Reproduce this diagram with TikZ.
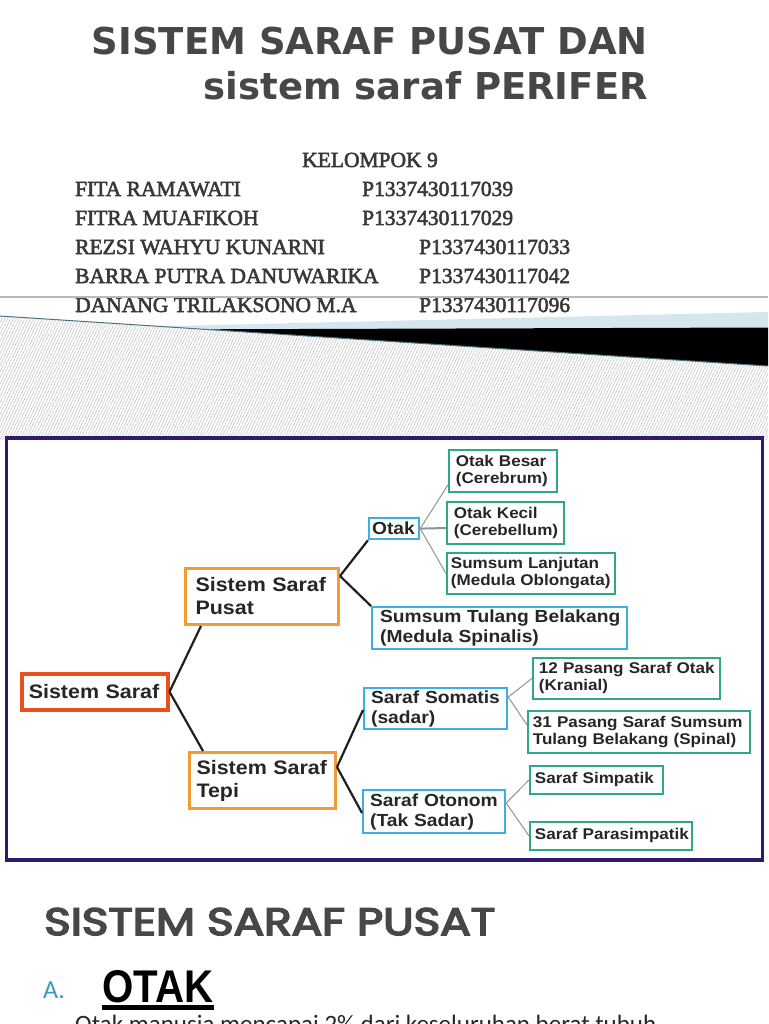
\documentclass[tikz,border=0pt]{standalone}
\usepackage{fontspec}
\usetikzlibrary{calc,patterns.meta}
\setmainfont{Liberation Serif}
\newfontfamily\namefont[FakeBold=2.5]{Liberation Serif}
\newfontfamily\titlef{DejaVu Sans}
\newfontfamily\boxf[FakeStretch=1.1]{Liberation Sans}
\newfontfamily\plainsans{Liberation Sans}
\newfontfamily\comicf[FakeBold=4]{Poppins}
\newfontfamily\bodyf{Carlito}
\definecolor{titlegray}{HTML}{474747}
\definecolor{namegray}{HTML}{383838}
\definecolor{nodetext}{HTML}{262626}
\definecolor{sred}{HTML}{E8501E}
\definecolor{sorange}{HTML}{F29A35}
\definecolor{sblue}{HTML}{3DAFE6}
\definecolor{sgreen}{HTML}{2FA888}
\definecolor{purp}{HTML}{2E1A6E}
\definecolor{lightband}{HTML}{D6E6EF}
\definecolor{edgeline}{HTML}{4D7380}
\definecolor{tealA}{HTML}{3A9DC0}
\definecolor{comicgray}{HTML}{474747}
\tikzset{
  bx/.style={draw, fill=white, anchor=north west, inner ysep=0pt, text=nodetext, align=left},
  redbx/.style={bx, draw=sred, line width=3.5pt, font=\boxf\bfseries\fontsize{19.5}{23}\selectfont},
  orbx/.style={bx, draw=sorange, line width=3pt, font=\boxf\bfseries\fontsize{19.5}{23}\selectfont},
  blbx/.style={bx, draw=sblue, line width=2.2pt, font=\boxf\bfseries\fontsize{17.5}{20}\selectfont},
  grbx/.style={bx, draw=sgreen, line width=1.8pt, font=\boxf\bfseries\fontsize{15.5}{17}\selectfont},
  mainlink/.style={line width=2.2pt, black!88},
  sublink/.style={line width=1pt, gray!85},
  txt/.style={inner sep=0pt, anchor=base west},
  namef/.style={txt, text=namegray, font=\namefont\fontsize{21.5}{22}\selectfont},
}
\begin{document}
\begin{tikzpicture}[x=1pt,y=-1pt]
\clip (0,0) rectangle (768,1024);
\fill[white] (0,0) rectangle (768,1024);

% title
\node[inner sep=0pt, anchor=base east, text=titlegray, font=\titlef\bfseries\fontsize{37}{40}\selectfont] (t1) at (648,55) {SISTEM SARAF PUSAT DAN};
\node[inner sep=0pt, anchor=base east, text=titlegray, font=\titlef\bfseries\fontsize{37}{40}\selectfont] (t2) at (648,100) {sistem saraf PERIFER};

% group
\node[inner sep=0pt, anchor=base, text=namegray, font=\namefont\fontsize{21.5}{22}\selectfont] (kel) at (370,167) {KELOMPOK 9};
\node[namef] (n1) at (75,196) {FITA RAMAWATI};
\node[namef] (n2) at (75,225) {FITRA MUAFIKOH};
\node[namef] (n3) at (75,254) {REZSI WAHYU KUNARNI};
\node[namef] (n4) at (75,283) {BARRA PUTRA DANUWARIKA};
\node[namef] (n5) at (75,312) {DANANG TRILAKSONO M.A};
\node[namef] (i1) at (362,196) {P1337430117039};
\node[namef] (i2) at (362,225) {P1337430117029};
\node[namef] (i3) at (419,254) {P1337430117033};
\node[namef] (i4) at (419,283) {P1337430117042};
\node[namef] (i5) at (419,312) {P1337430117096};

% slide separator line
\draw[line width=1.5pt, gray!55] (0,297) -- (768,297);

% decorative band
\path[pattern={Lines[angle=65,distance=2.6pt,line width=0.5pt]}, pattern color=gray!50]
  (0,316) -- (768,366) -- (768,440) -- (0,440) -- cycle;
\fill[lightband] (158,326.3) -- (768,312) -- (768,327.5) -- (205,329.3) -- cycle;
\fill[black] (205,329.3) -- (768,327.5) -- (768,366) -- cycle;
\draw[line width=1pt, edgeline] (0,316) -- (768,366);

% diagram frame
\draw[line width=3.5pt, draw=purp, fill=white] (6.5,438) rectangle (762.5,860);

% nodes
\node[redbx, minimum width=146pt, minimum height=36pt, inner xsep=7pt, text width=132pt] (ss) at (20,672) {\mbox{Sistem Saraf}};
\node[orbx, minimum width=153pt, minimum height=56pt, inner xsep=10pt, text width=133pt] (ssp) at (184,567) {\mbox{Sistem Saraf}\\\mbox{Pusat}};
\node[orbx, minimum width=146pt, minimum height=56pt, inner xsep=7pt, text width=132pt] (sst) at (188,751) {\mbox{Sistem Saraf}\\\mbox{Tepi}};
\node[blbx, minimum width=50pt, minimum height=21pt, inner xsep=3pt, text width=44pt] (otak) at (368,517) {\mbox{Otak}};
\node[blbx, minimum width=255pt, minimum height=42pt, inner xsep=8pt, text width=239pt] (stb) at (371,606) {\mbox{Sumsum Tulang Belakang}\\\mbox{(Medula Spinalis)}};
\node[blbx, minimum width=143pt, minimum height=41pt, inner xsep=7pt, text width=129pt] (som) at (363,687) {\mbox{Saraf Somatis}\\\mbox{(sadar)}};
\node[blbx, minimum width=142pt, minimum height=43pt, inner xsep=7pt, text width=128pt] (oto) at (362,789) {\mbox{Saraf Otonom}\\\mbox{(Tak Sadar)}};
\node[grbx, minimum width=108pt, minimum height=42pt, inner xsep=7pt, text width=94pt] (besar) at (448,449) {\mbox{Otak Besar}\\\mbox{(Cerebrum)}};
\node[grbx, minimum width=117pt, minimum height=42pt, inner xsep=7pt, text width=103pt] (kecil) at (446,501) {\mbox{Otak Kecil}\\\mbox{(Cerebellum)}};
\node[grbx, minimum width=168pt, minimum height=41pt, inner xsep=4pt, text width=160pt] (lanj) at (446,552) {\mbox{Sumsum Lanjutan}\\\mbox{(Medula Oblongata)}};
\node[grbx, minimum width=187pt, minimum height=41pt, inner xsep=6pt, text width=175pt] (k12) at (532,657) {\mbox{12 Pasang Saraf Otak}\\\mbox{(Kranial)}};
\node[grbx, minimum width=222pt, minimum height=42pt, inner xsep=5pt, text width=212pt] (s31) at (527,710) {\mbox{31 Pasang Saraf Sumsum}\\\mbox{Tulang Belakang (Spinal)}};
\node[grbx, minimum width=133pt, minimum height=28pt, inner xsep=5pt, text width=123pt] (simp) at (529,765) {\mbox{Saraf Simpatik}};
\node[grbx, minimum width=162pt, minimum height=28pt, inner xsep=5pt, text width=152pt] (paras) at (529,821) {\mbox{Saraf Parasimpatik}};

% connectors
\draw[mainlink] (ss.east) -- ($(ssp.south west)+(17,0)$);
\draw[mainlink] (ss.east) -- ($(sst.north west)+(15,0)$);
\draw[mainlink] ($(ssp.north east)+(0,9)$) -- (otak.south west);
\draw[mainlink] ($(ssp.north east)+(0,9)$) -- (stb.north west);
\draw[mainlink] ($(sst.north east)+(0,16)$) -- ($(som.north west)+(0,23)$);
\draw[mainlink] ($(sst.north east)+(0,16)$) -- ($(oto.north west)+(0,24)$);
\draw[sublink] (otak.east) -- ($(besar.south west)+(0,-8)$);
\draw[sublink, line width=2pt] (otak.east) -- ($(kecil.north west)+(0,27)$);
\draw[sublink] (otak.east) -- (lanj.west);
\draw[sublink] ($(som.north east)+(0,10)$) -- (k12.west);
\draw[sublink] ($(som.north east)+(0,10)$) -- ($(s31.north west)+(0,15)$);
\draw[sublink] ($(oto.north east)+(0,14)$) -- (simp.west);
\draw[sublink] ($(oto.north east)+(0,14)$) -- (paras.west);

% next slide
\node[txt, text=comicgray] (h2) at (44,935) {\resizebox{451pt}{27pt}{\comicf SISTEM SARAF PUSAT}};
\node[txt, text=tealA, font=\bodyf\fontsize{26}{26}\selectfont] (la) at (43,998) {A.};
\node[txt] (otk) at (102,1002) {\resizebox{111pt}{32pt}{\plainsans\bfseries OTAK}};
\fill[black] ($(otk.base west)+(0,3)$) rectangle ($(otk.base east)+(1,7.5)$);
\node[txt, text=black!85, font=\bodyf\fontsize{25}{25}\selectfont] (body) at (75,1032) {Otak manusia mencapai 2\% dari keseluruhan berat tubuh};
\end{tikzpicture}
\end{document}
